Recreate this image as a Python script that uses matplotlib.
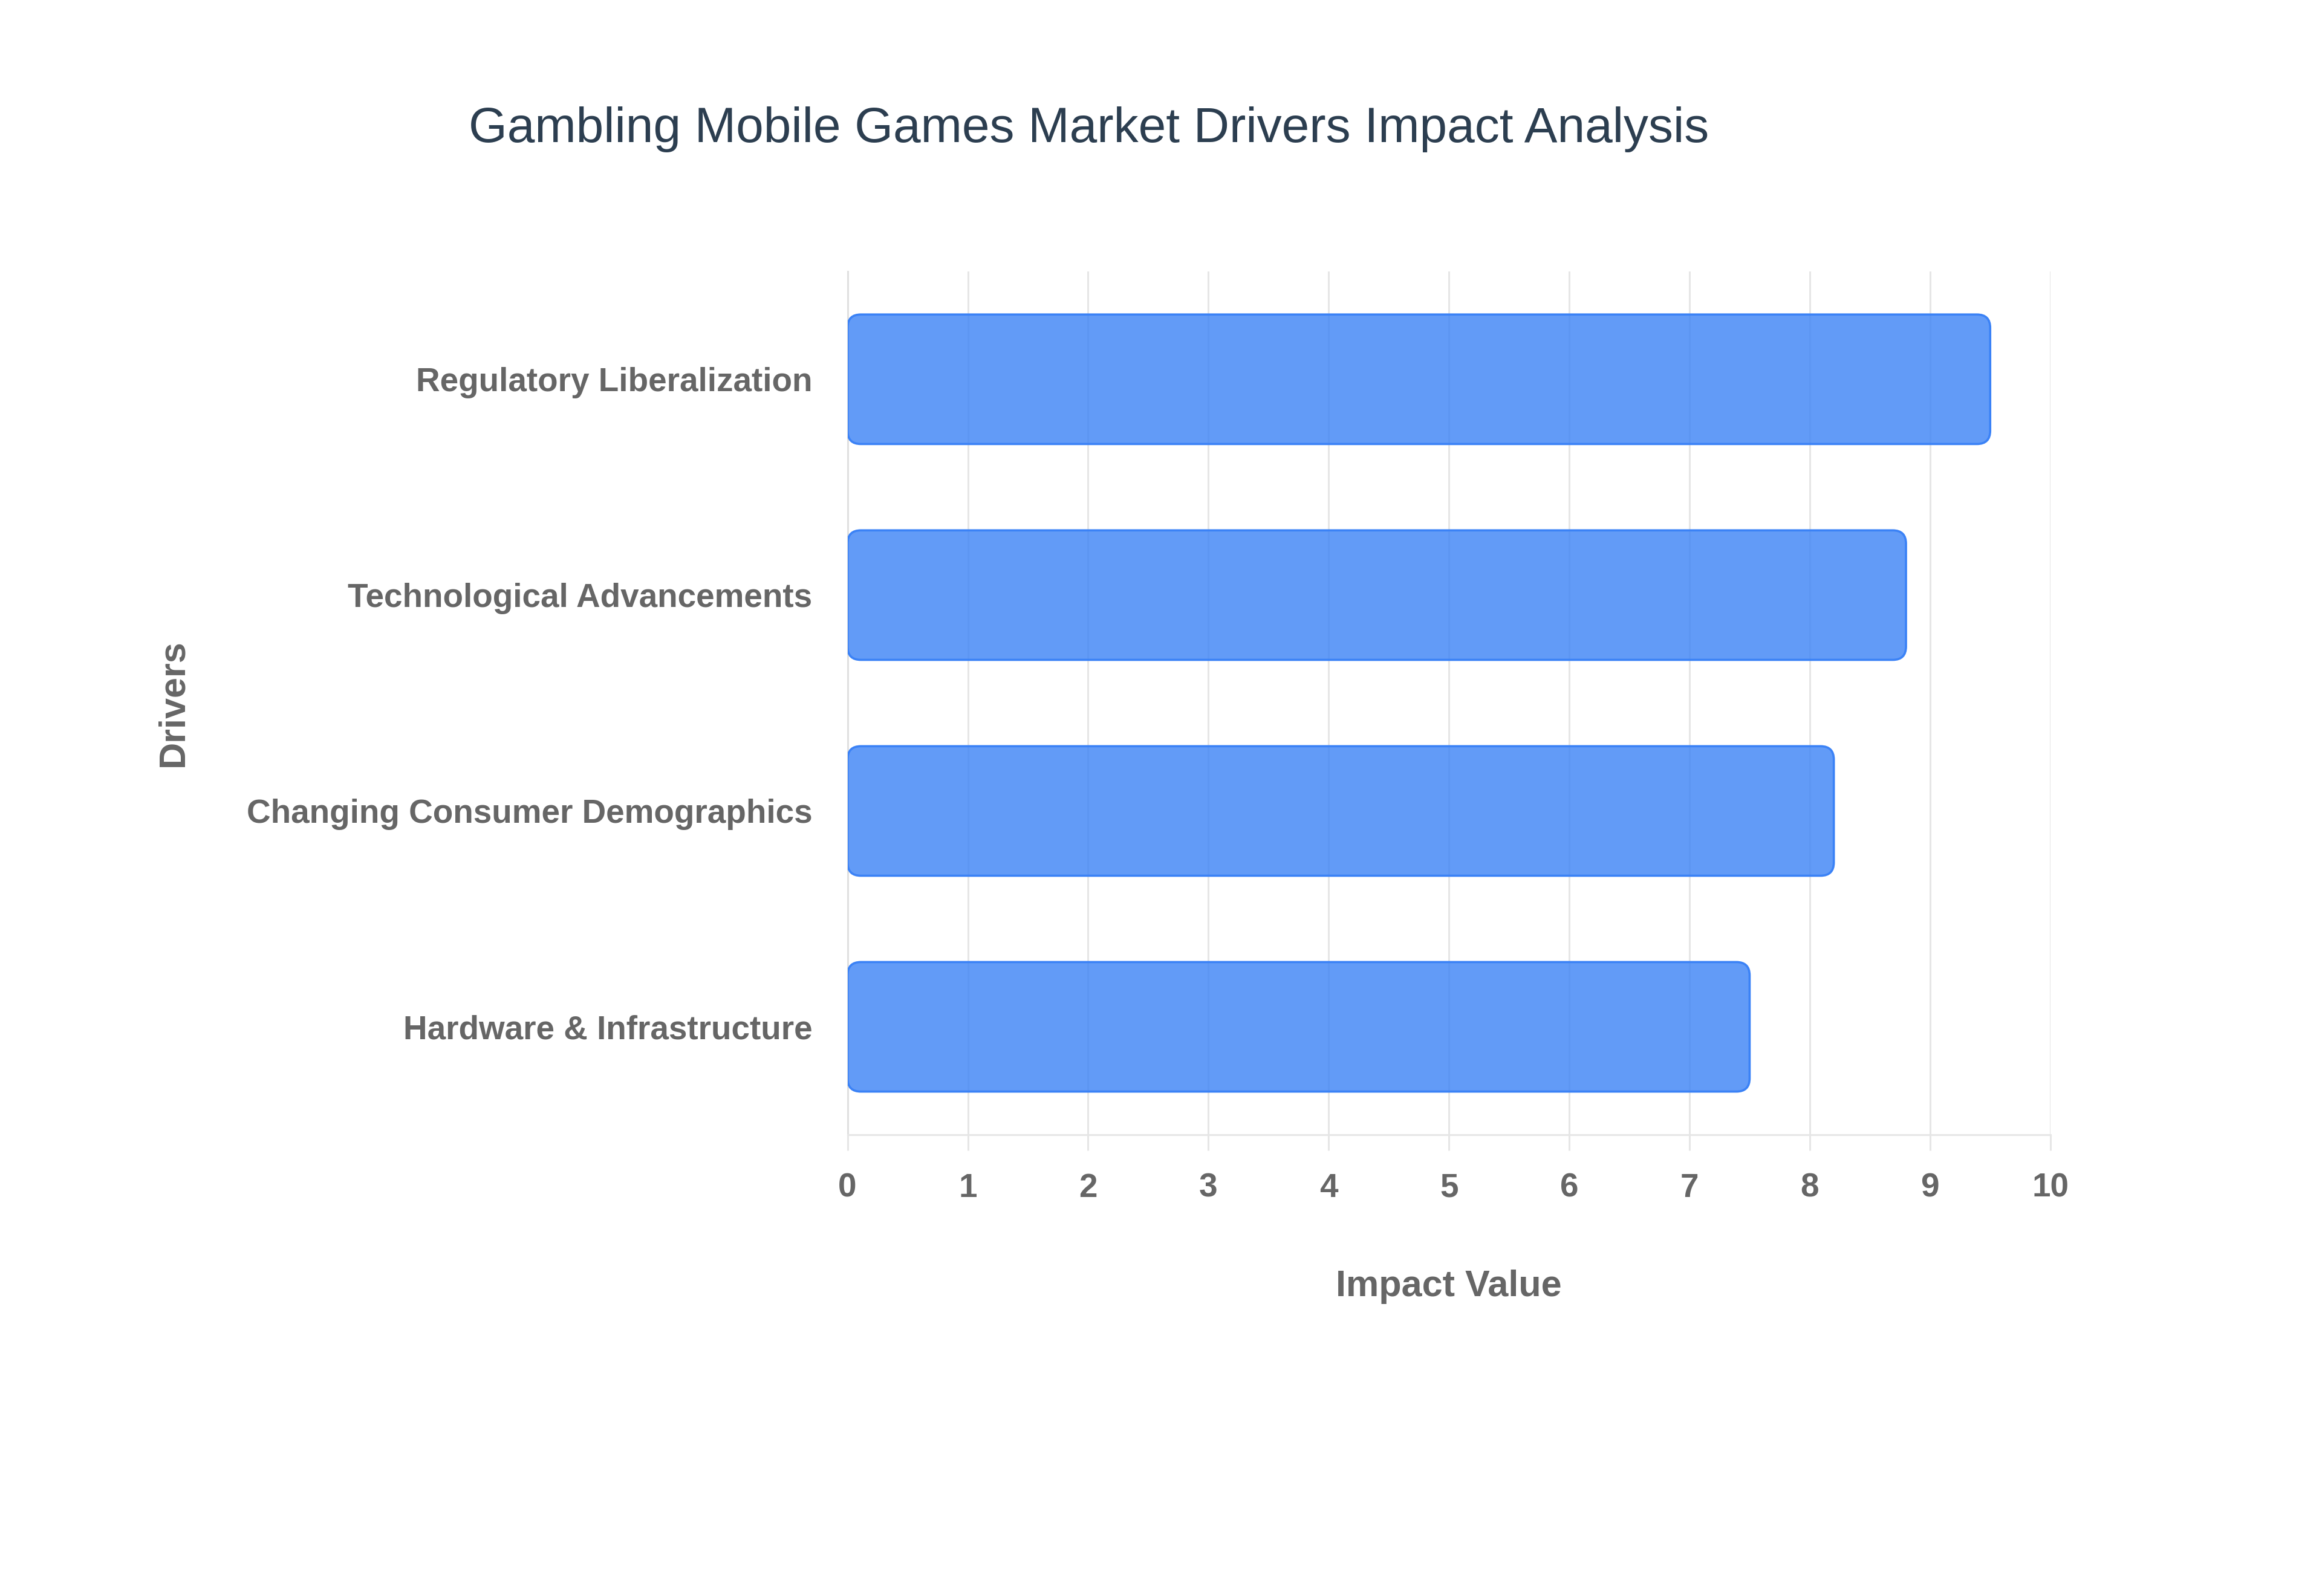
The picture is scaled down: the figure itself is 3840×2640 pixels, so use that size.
import matplotlib.pyplot as plt
from matplotlib.patches import FancyBboxPatch

drivers = ['Regulatory Liberalization', 'Technological Advancements',
           'Changing Consumer Demographics', 'Hardware & Infrastructure']
impact = [9.5, 8.8, 8.2, 7.5]
xticks = [0, 1, 2, 3, 4, 5, 6, 7, 8, 9, 10]

fig = plt.figure(figsize=(38.4, 26.4), dpi=100)
ax = fig.add_axes([0.365, 0.289, 0.518, 0.541])

bars = ax.barh(drivers, impact, height=0.6)
ax.set_xlim(0, 10)
ax.set_ylim(3.5, -0.5)

# swap the plain bars for rounded ones
for b in bars:
    x, y, w, h = b.get_x(), b.get_y(), b.get_width(), b.get_height()
    b.remove()
    ax.add_patch(FancyBboxPatch((x, y), w, h,
                                boxstyle='round,pad=0,rounding_size=0.11',
                                mutation_aspect=0.56,
                                facecolor=(59 / 255, 130 / 255, 246 / 255, 0.8),
                                edgecolor='#3B82F6', linewidth=2.6, zorder=3))

ax.set_xticks(xticks)
ax.grid(axis='x', color='#E6E6E6', linewidth=2.2, zorder=0)
ax.set_axisbelow(True)
for s in ['top', 'right']:
    ax.spines[s].set_visible(False)
ax.spines['left'].set_color('#E0E0E0')
ax.spines['left'].set_linewidth(2.2)
ax.spines['bottom'].set_color('#E6E6E6')
ax.spines['bottom'].set_linewidth(2.2)

lab = dict(family='Liberation Sans', fontweight='bold', color='#666666')
ax.tick_params(axis='x', length=19, width=2.2, color='#E6E6E6', pad=26)
ax.tick_params(axis='y', length=0, pad=42)
for t in ax.get_xticklabels() + ax.get_yticklabels():
    t.set(fontsize=39.5, **lab)

ax.set_xlabel('Impact Value', fontsize=44, labelpad=78, **lab)
ax.yaxis.set_label_coords(-0.546, 0.5, transform=ax.transAxes)
ax.set_ylabel('Drivers', fontsize=44, **lab)

fig.text(0.469, 0.919, 'Gambling Mobile Games Market Drivers Impact Analysis',
         ha='center', va='center', fontsize=59, color='#2C3E50',
         family='Liberation Sans')

fig.savefig('out.png', dpi=100, facecolor='white')
